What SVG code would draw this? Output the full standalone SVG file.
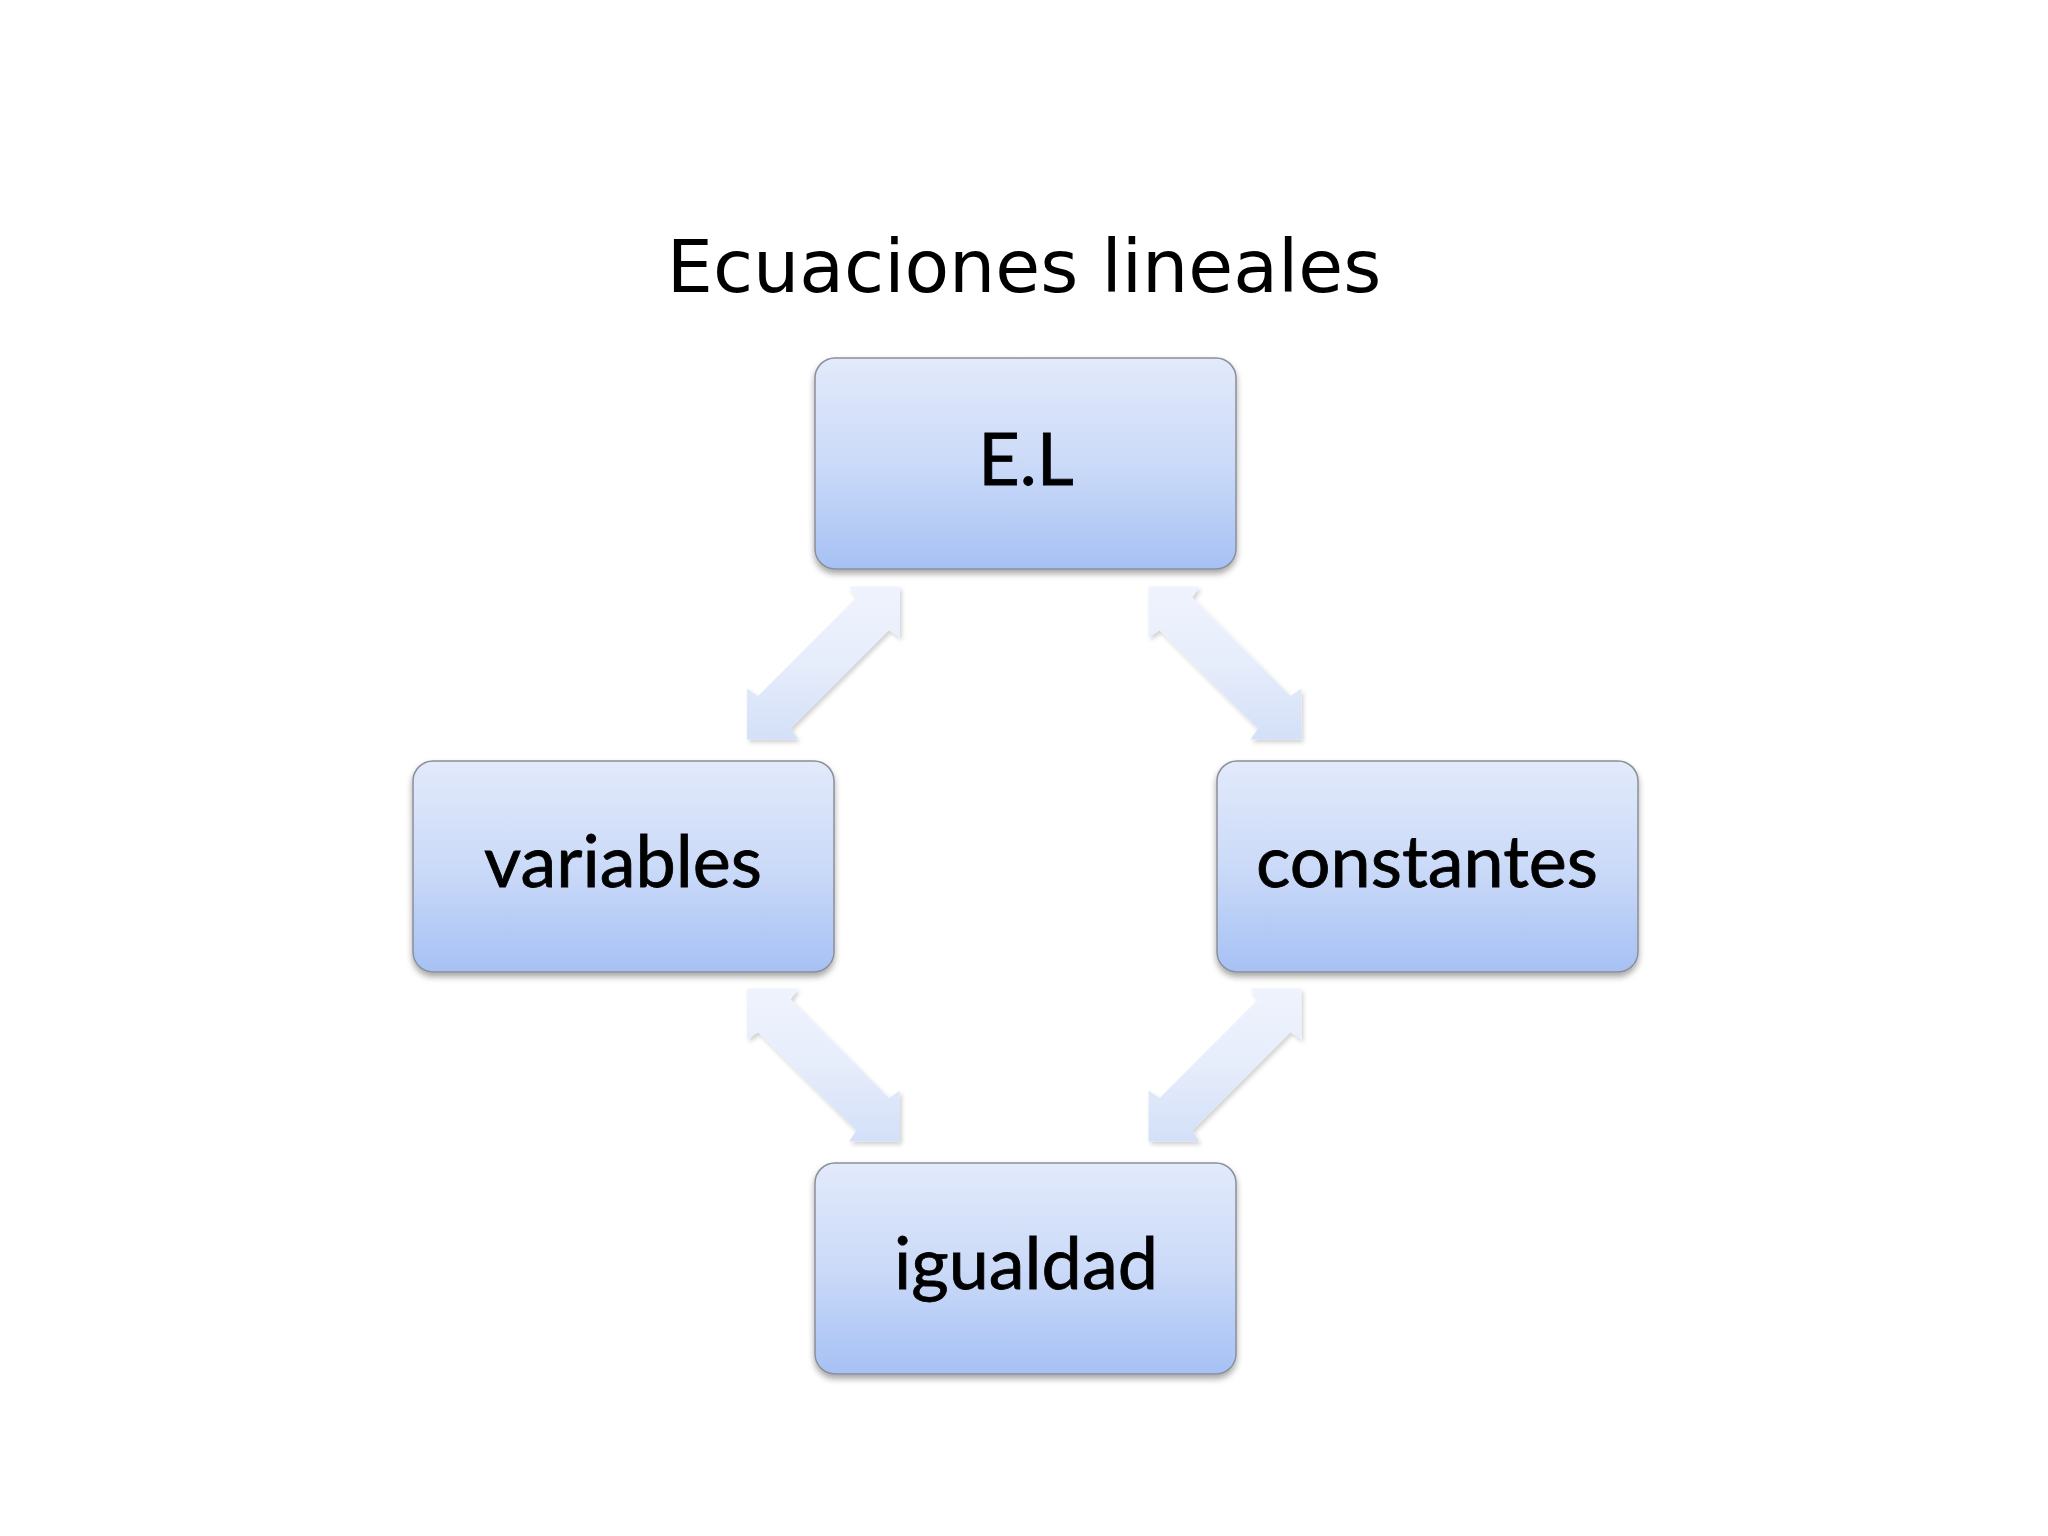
<svg xmlns="http://www.w3.org/2000/svg" width="2048" height="1536" viewBox="0 0 2048 1536">
<defs>
<linearGradient id="boxGrad" x1="0" y1="0" x2="0" y2="1">
<stop offset="0" stop-color="#e2eafb"/>
<stop offset="0.5" stop-color="#cbdaf8"/>
<stop offset="1" stop-color="#a6c1f4"/>
</linearGradient>
<linearGradient id="arrGrad" x1="0" y1="0" x2="0" y2="1">
<stop offset="0" stop-color="#eff3fd"/>
<stop offset="0.5" stop-color="#e6edfb"/>
<stop offset="1" stop-color="#d3e0f8"/>
</linearGradient>
<filter id="boxShadow" x="-10%" y="-10%" width="120%" height="130%">
<feDropShadow dx="0" dy="4" stdDeviation="3" flood-color="#000" flood-opacity="0.35"/>
</filter>
<filter id="arrShadow" x="-10%" y="-10%" width="130%" height="130%">
<feDropShadow dx="2" dy="3" stdDeviation="2" flood-color="#000" flood-opacity="0.18"/>
</filter>
<polygon id="arrA" points="76.4,-76.4 25.5,-76.4 32.9,-65.4 -65.4,32.9 -76.4,25.5 -76.4,76.4 -25.5,76.4 -32.9,65.4 65.4,-32.9 76.4,-25.5"/>
<polygon id="arrB" points="-76.4,-76.4 -25.5,-76.4 -32.9,-65.4 65.4,32.9 76.4,25.5 76.4,76.4 25.5,76.4 32.9,65.4 -65.4,-32.9 -76.4,-25.5"/>
</defs>
<style>
.box{fill:url(#boxGrad);stroke:#8a8f98;stroke-width:1.5;filter:url(#boxShadow)}
.lbl{font-family:Lato,"Open Sans",sans-serif;font-size:72px;fill:#000;stroke:#000;stroke-width:0.8;text-anchor:middle}
.title{font-family:"DejaVu Sans",Verdana,sans-serif;font-size:73px;fill:#000;text-anchor:middle}
.arr{fill:url(#arrGrad);filter:url(#arrShadow)}
</style>
<rect width="2048" height="1536" fill="#ffffff"/>
<text class="title" x="1024" y="292">Ecuaciones lineales</text>
<g id="connectors">
<use href="#arrA" class="arr" transform="translate(823.5,663)"/>
<use href="#arrB" class="arr" transform="translate(1225,663)"/>
<use href="#arrB" class="arr" transform="translate(823.5,1065)"/>
<use href="#arrA" class="arr" transform="translate(1225,1065)"/>
</g>
<g id="node-el">
<rect class="box" x="815" y="358" width="421" height="211" rx="20"/>
<text class="lbl" x="1026" y="485">E.L</text>
</g>
<g id="node-variables">
<rect class="box" x="413" y="761" width="421" height="211" rx="20"/>
<text class="lbl" x="623" y="887">variables</text>
</g>
<g id="node-constantes">
<rect class="box" x="1217" y="761" width="421" height="211" rx="20"/>
<text class="lbl" x="1427" y="887">constantes</text>
</g>
<g id="node-igualdad">
<rect class="box" x="815" y="1163" width="421" height="211" rx="20"/>
<text class="lbl" x="1026" y="1289">igualdad</text>
</g>
</svg>
